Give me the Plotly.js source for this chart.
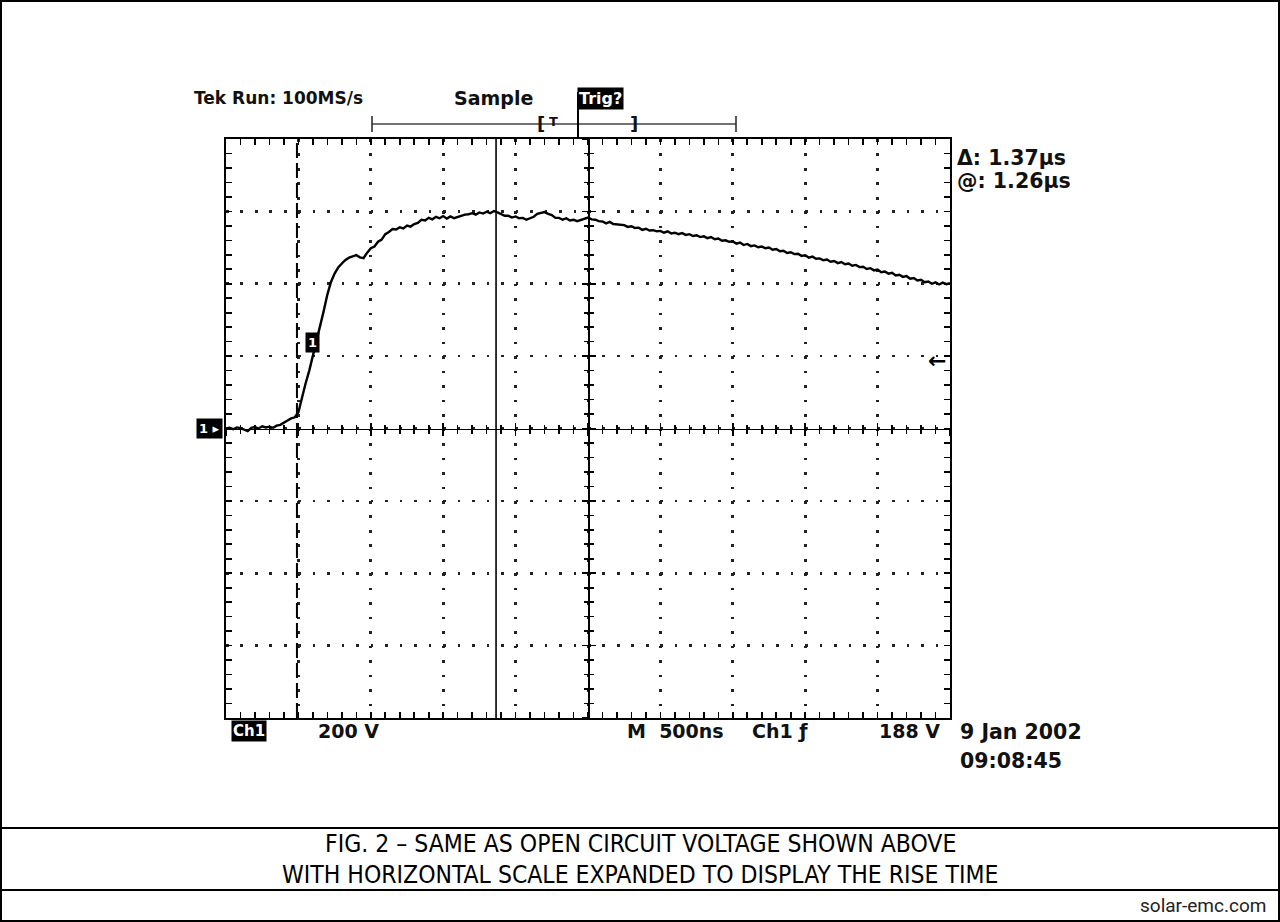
<!DOCTYPE html>
<html>
<head>
<meta charset="utf-8">
<script src="https://cdn.plot.ly/plotly-3.0.1.min.js"></script>
<style>
html,body{margin:0;padding:0;background:#fff;}
#chart{width:1280px;height:922px;}
</style>
</head>
<body>
<div id="chart"></div>
<script>
// ---------------- data ----------------
const sampleIntervalUs = 0.025;           // one sample every 25 ns
const timeRangeUs = [0, 5];               // 10 divisions x 500 ns
const voltageRangeV = [-800, 800];        // 8 divisions x 200 V
const timePerDivUs = 0.5;
const voltsPerDiv = 200;
const voltageV = [
  0, 2, -2, 3, 1, -4, -7, 2, 4, 0, 6, 3, 5, 2, 8, 10, 17, 22, 28, 31,
  45, 88, 125, 160, 200, 245, 283, 325, 370, 405, 428, 445, 456, 466, 472, 476, 479, 473, 471, 486,
  498, 503, 516, 522, 537, 543, 551, 550, 556, 553, 561, 558, 565, 568, 577, 575, 582, 578, 585, 581,
  587, 580, 586, 581, 585, 587, 591, 592, 595, 591, 597, 594, 599, 595, 601, 597, 593, 588, 588, 583,
  586, 581, 582, 577, 581, 585, 593, 595, 598, 593, 590, 582, 582, 577, 581, 575, 577, 573, 577, 579,
  583, 578, 577, 573, 572, 567, 571, 565, 564, 561, 562, 557, 559, 554, 555, 549, 552, 547, 548, 545,
  546, 541, 545, 539, 541, 537, 540, 535, 537, 532, 534, 529, 531, 526, 529, 523, 525, 519, 520, 516,
  517, 511, 514, 507, 510, 504, 506, 501, 503, 498, 500, 494, 496, 490, 491, 485, 487, 482, 483, 477,
  479, 472, 475, 469, 470, 465, 467, 461, 463, 457, 460, 454, 456, 450, 452, 446, 447, 441, 443, 437,
  439, 432, 434, 428, 430, 423, 425, 419, 421, 414, 416, 409, 411, 404, 406, 400, 404, 398, 403, 399,
  402
];
const cursorTimesUs = [0.49, 1.865];      // dashed and solid time cursors
const cursorDashes = ['15px,5px', 'solid'];
const groundLevelV = 0;
const markerPointUs = 0.60;               // "1" box on the rising edge
const markerPointV = 238;
const triggerLevelV = 188;

const headerTexts = ['Tek Run: 100MS/s', 'Sample'];
const triggerStatusText = "Trig?";
const cursorReadouts = ['Δ: 1.37µs', '@: 1.26µs'];
const channelLabel = 'Ch1';
const channelScaleText = '200 V';
const timebaseText = 'M\u00a0\u00a0500ns';
const triggerSourceText = 'Ch1 ƒ';
const triggerLevelText = '188 V';
const dateText = '9 Jan 2002';
const timeText = '09:08:45';
const captionLines = [
  'FIG. 2 – SAME AS OPEN CIRCUIT VOLTAGE SHOWN ABOVE',
  'WITH HORIZONTAL SCALE EXPANDED TO DISPLAY THE RISE TIME'
];
const sourceText = 'solar-emc.com';

// ---------------- layout helpers ----------------
const L = 226, T = 139, W = 724, H = 579;
const xp = px => (px - L) / W;
const yp = py => (T + H - py) / H;

const timeUs = voltageV.map((_, i) => i * sampleIntervalUs);

const scopeFont = {family: 'DejaVu Sans, Verdana, sans-serif', size: 16, color: '#111', weight: 'bold'};
const sized = (f, s, extra) => Object.assign({}, f, {size: s}, extra || {});
const capFont = {family: 'Liberation Sans Narrow, DejaVu Sans Condensed, Arial Narrow, sans-serif', size: 24.5, color: '#000'};

const divPx = W / 10;
const dotDash = '2.6px,' + (divPx / 5 - 2.6).toFixed(2) + 'px';

function borderAxis(range, dtick, minorDtick) {
  return {
    range: range, dtick: dtick, tick0: range[0],
    showgrid: true, gridcolor: '#222', gridwidth: 2.6, griddash: dotDash,
    showline: true, linecolor: '#000', linewidth: 2, mirror: 'allticks',
    ticks: 'inside', ticklen: 6, tickwidth: 1.6, tickcolor: '#000',
    minor: {dtick: minorDtick, tick0: range[0], ticks: 'inside', ticklen: 5, tickwidth: 1.6, tickcolor: '#000', showgrid: false},
    showticklabels: false, zeroline: false, fixedrange: true
  };
}
function centerAxis(over, range, dtick, minorDtick, side) {
  return {
    overlaying: over, anchor: 'free', position: 0.5,
    range: range, dtick: dtick, tick0: range[0],
    showgrid: false, zeroline: false, showticklabels: false,
    showline: true, linecolor: '#000', linewidth: 1.6,
    ticks: side, ticklen: 6, tickwidth: 1.6, tickcolor: '#000',
    minor: {dtick: minorDtick, tick0: range[0], ticks: side, ticklen: 4, tickwidth: 1.6, tickcolor: '#000', showgrid: false},
    fixedrange: true
  };
}

const traces = [{
  type: 'scatter', mode: 'lines',
  x: timeUs, y: voltageV,
  line: {color: '#000', width: 2.4},
  hoverinfo: 'skip', showlegend: false
}];
// empty carriers so that the centre graticule axes get drawn
[['x2', 'y'], ['x3', 'y'], ['x', 'y2'], ['x', 'y3']].forEach(([xa, ya]) => traces.push({
  type: 'scatter', mode: 'lines', x: timeRangeUs, y: [null, null],
  xaxis: xa, yaxis: ya, hoverinfo: 'skip', showlegend: false
}));

const shapes = [];
// outer frame and caption rules
shapes.push({type: 'rect', xref: 'paper', yref: 'paper', x0: xp(1), x1: xp(1279), y0: yp(921), y1: yp(1), line: {color: '#000', width: 2}});
[828, 890].forEach(py => shapes.push({type: 'line', xref: 'paper', yref: 'paper', x0: xp(0), x1: xp(1280), y0: yp(py), y1: yp(py), line: {color: '#000', width: 2}}));
// time cursors
cursorTimesUs.forEach((t, i) => shapes.push({type: 'line', xref: 'x', yref: 'paper', x0: t, x1: t, y0: 0, y1: 1, line: {color: '#000', width: i === 0 ? 2 : 1.6, dash: cursorDashes[i]}}));
// record-view bar above the graticule
shapes.push({type: 'line', xref: 'paper', yref: 'paper', x0: xp(372), x1: xp(736), y0: yp(124), y1: yp(124), line: {color: '#444', width: 1.5}});
[372, 736].forEach(px => shapes.push({type: 'line', xref: 'paper', yref: 'paper', x0: xp(px), x1: xp(px), y0: yp(116), y1: yp(132), line: {color: '#222', width: 1.5}}));
shapes.push({type: 'line', xref: 'paper', yref: 'paper', x0: xp(578), x1: xp(578), y0: yp(92), y1: yp(138), line: {color: '#000', width: 2}});

function ann(text, x, y, opts) {
  return Object.assign({text: text, x: x, y: y, xref: 'paper', yref: 'paper', showarrow: false,
    xanchor: 'left', yanchor: 'middle', font: scopeFont}, opts || {});
}
const whiteFont = sized(scopeFont, 13, {color: '#fff'});

const annotations = [
  ann(headerTexts[0], xp(192), yp(98), {font: sized(scopeFont, 17)}),
  ann(headerTexts[1], xp(452), yp(98), {font: sized(scopeFont, 19)}),
  ann(triggerStatusText, xp(600), yp(99), {xanchor: 'center', bgcolor: '#000', font: sized(whiteFont, 16), borderpad: 1}),
  ann('[', xp(541), yp(124), {xanchor: 'center', font: sized(scopeFont, 18)}),
  ann('T', xp(553), yp(122), {xanchor: 'center', font: sized(scopeFont, 13)}),
  ann(']', xp(634), yp(124), {xanchor: 'center', font: sized(scopeFont, 18)}),
  ann(cursorReadouts[0], xp(955), yp(158), {font: sized(scopeFont, 20.5)}),
  ann(cursorReadouts[1], xp(955), yp(181), {font: sized(scopeFont, 20.5)}),
  // ground marker on the left edge
  {text: '1 ▸', x: xp(223), y: groundLevelV, xref: 'paper', yref: 'y', showarrow: false, xanchor: 'right', yanchor: 'middle',
   bgcolor: '#000', font: whiteFont, borderpad: 2},
  // "1" marker on the rising edge
  {text: '1', x: markerPointUs, y: markerPointV, xref: 'x', yref: 'y', showarrow: false, xanchor: 'center', yanchor: 'middle',
   bgcolor: '#000', font: whiteFont, borderpad: 2},
  // trigger level arrow on the right edge
  {text: '←', x: xp(948), y: triggerLevelV, xref: 'paper', yref: 'y', showarrow: false, xanchor: 'right', yanchor: 'middle',
   font: sized(scopeFont, 22, {color: '#000'})},
  ann(channelLabel, xp(231), yp(731), {bgcolor: '#000', font: sized(whiteFont, 15), borderpad: 1}),
  ann(channelScaleText, xp(316), yp(731), {font: sized(scopeFont, 19)}),
  ann(timebaseText, xp(625), yp(731), {font: sized(scopeFont, 19)}),
  ann(triggerSourceText, xp(750), yp(731), {font: sized(scopeFont, 19)}),
  ann(triggerLevelText, xp(942), yp(731), {xanchor: 'right', font: sized(scopeFont, 19)}),
  ann(dateText, xp(958), yp(732), {font: sized(scopeFont, 20.5)}),
  ann(timeText, xp(958), yp(761), {font: sized(scopeFont, 20.5)}),
  ann(captionLines[0], xp(640), yp(843), {xanchor: 'center', font: capFont}),
  ann(captionLines[1], xp(640), yp(874), {xanchor: 'center', font: capFont}),
  ann(sourceText, xp(1268), yp(905), {xanchor: 'right', font: {family: 'Liberation Sans Narrow, Roboto, sans-serif', size: 19, color: '#222'}})
];

const layout = {
  width: 1280, height: 922,
  margin: {l: L, r: 1280 - L - W, t: T, b: 922 - T - H, pad: 0},
  paper_bgcolor: '#fff', plot_bgcolor: '#fff',
  showlegend: false, hovermode: false,
  xaxis: borderAxis(timeRangeUs, timePerDivUs, timePerDivUs / 5),
  yaxis: borderAxis(voltageRangeV, voltsPerDiv, voltsPerDiv / 5),
  xaxis2: centerAxis('x', timeRangeUs, timePerDivUs, timePerDivUs / 5, 'outside'),
  xaxis3: centerAxis('x', timeRangeUs, timePerDivUs, timePerDivUs / 5, 'inside'),
  yaxis2: centerAxis('y', voltageRangeV, voltsPerDiv, voltsPerDiv / 5, 'outside'),
  yaxis3: centerAxis('y', voltageRangeV, voltsPerDiv, voltsPerDiv / 5, 'inside'),
  shapes: shapes,
  annotations: annotations
};

Plotly.newPlot('chart', traces, layout, {staticPlot: true, displayModeBar: false});
</script>
</body>
</html>
